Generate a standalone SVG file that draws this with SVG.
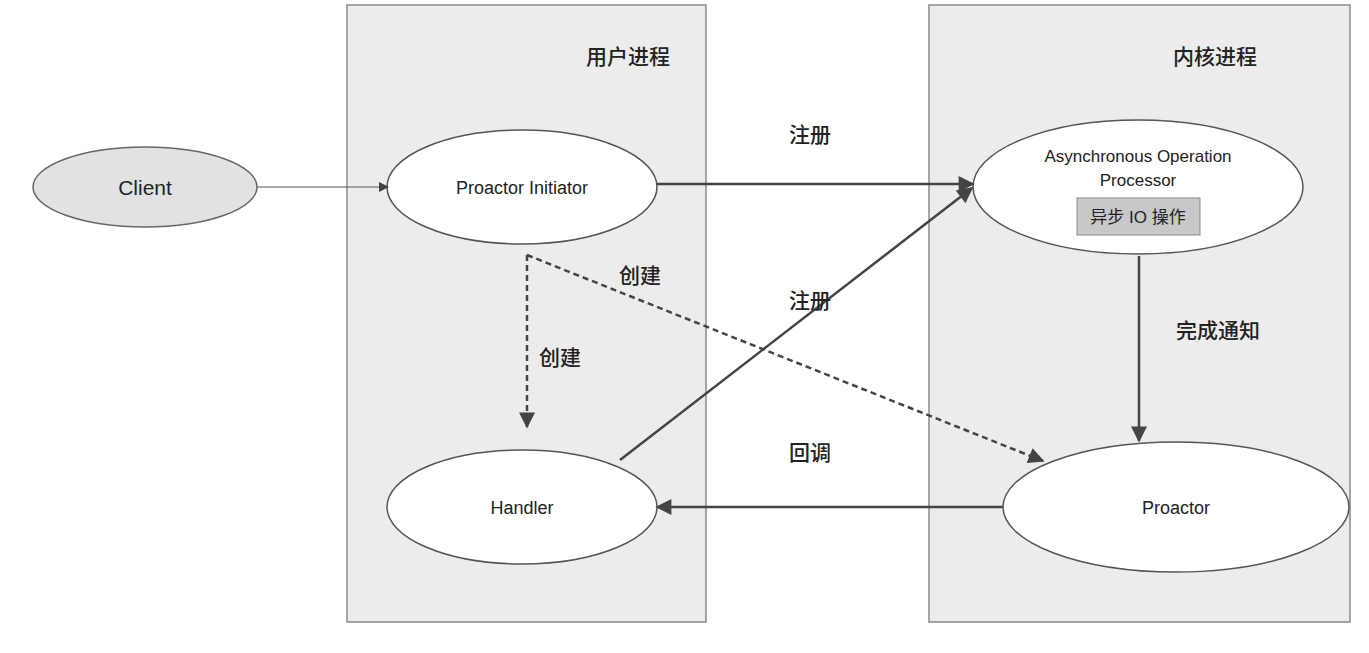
<svg xmlns="http://www.w3.org/2000/svg" width="1369" height="653" viewBox="0 0 1369 653">
<style>
.panel{fill:#ececec;stroke:#8a8a8a;stroke-width:1.5}
.node{fill:#fff;stroke:#555;stroke-width:1.5}
.t{font-family:"Liberation Sans","Noto Sans CJK SC",sans-serif;fill:#222;text-anchor:middle}
.cj{font-family:"Noto Sans CJK SC",sans-serif;fill:#222;text-anchor:middle;font-size:21px;font-weight:500}
.c{stroke:#444;fill:none;stroke-width:2.5}
</style>
<defs>
<marker id="a" viewBox="0 0 10 10" refX="9" refY="5" markerWidth="14" markerHeight="10" markerUnits="userSpaceOnUse" orient="auto"><path d="M0,0L10,5L0,10z" fill="#444"/></marker>
<marker id="b" viewBox="0 0 10 10" refX="9" refY="5" markerWidth="22" markerHeight="16" markerUnits="userSpaceOnUse" orient="auto"><path d="M0,0L10,5L0,10z" fill="#444"/></marker>
</defs>
<rect width="1369" height="653" fill="#fff"/>
<g id="user"><rect class="panel" x="347" y="5" width="359" height="617"/><text class="cj" x="628" y="64">用户进程</text></g>
<g id="kernel"><rect class="panel" x="929" y="5" width="421" height="617"/><text class="cj" x="1215" y="64">内核进程</text></g>
<g id="client"><ellipse cx="145" cy="187" rx="112" ry="40" fill="#e2e2e2" stroke="#666" stroke-width="1.5"/><text class="t" x="145" y="195" font-size="21">Client</text></g>
<g id="initiator"><ellipse class="node" cx="522" cy="187" rx="135" ry="57"/><text class="t" x="522" y="194" font-size="18">Proactor Initiator</text></g>
<g id="aop"><ellipse class="node" cx="1138" cy="187" rx="165" ry="67"/><text class="t" x="1138" y="162" font-size="17">Asynchronous Operation</text><text class="t" x="1138" y="186" font-size="17">Processor</text><rect x="1077" y="198" width="123" height="37" fill="#c8c8c8" stroke="#888"/><text class="t" x="1138" y="223" font-size="17">异步 IO 操作</text></g>
<g id="handler"><ellipse class="node" cx="522" cy="507" rx="135" ry="57"/><text class="t" x="522" y="514" font-size="18">Handler</text></g>
<g id="proactor"><ellipse class="node" cx="1176" cy="507" rx="173" ry="65"/><text class="t" x="1176" y="514" font-size="18">Proactor</text></g>
<g id="connectors">
<line x1="257" y1="187" x2="388" y2="187" stroke="#555" stroke-width="1.2" marker-end="url(#a)"/>
<line class="c" x1="657" y1="184" x2="973" y2="184" marker-end="url(#b)"/>
<line class="c" x1="620" y1="460" x2="972" y2="188" marker-end="url(#b)"/>
<line class="c" x1="527" y1="255" x2="527" y2="427" stroke-dasharray="6,4" marker-end="url(#b)"/>
<line class="c" x1="527" y1="255" x2="1043" y2="461" stroke-dasharray="6,4" marker-end="url(#b)"/>
<line class="c" x1="1139" y1="256" x2="1139" y2="441" marker-end="url(#b)"/>
<line class="c" x1="1003" y1="507" x2="657" y2="507" marker-end="url(#b)"/>
<text class="cj" x="810" y="142">注册</text>
<text class="cj" x="810" y="308">注册</text>
<text class="cj" x="560" y="365">创建</text>
<text class="cj" x="640" y="283">创建</text>
<text class="cj" x="1218" y="338">完成通知</text>
<text class="cj" x="810" y="460">回调</text>
</g>
</svg>
